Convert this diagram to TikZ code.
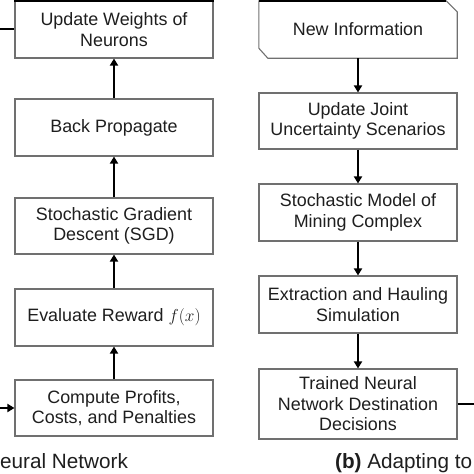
\documentclass[tikz,border=0pt]{standalone}
\usepackage{fontspec}
\setmainfont{Liberation Sans}
\usetikzlibrary{arrows.meta,calc}
\definecolor{boxline}{HTML}{707070}
\definecolor{txt}{HTML}{1E1E1E}
\begin{document}
\begin{tikzpicture}[x=1pt,y=-1pt,
  flowbox/.style={draw=boxline,line width=1.1pt,minimum width=198pt,inner sep=0pt,
    align=center,text=txt,font=\fontsize{17.9}{20.5}\selectfont},
  plainbox/.style={inner sep=0pt,minimum width=198pt,align=center,text=txt,
    font=\fontsize{17.9}{20.5}\selectfont},
  flowarrow/.style={line width=2pt,-{Triangle[length=7pt,width=8pt]}},
  flowline/.style={line width=2pt},
  topedge/.style={line width=2.5pt},
  caption/.style={inner sep=0pt,text=txt,font=\fontsize{20.7}{24}\selectfont}]
\useasboundingbox (0,0) rectangle (474,474);
% left column
\node[flowbox,minimum height=57pt] (l1) at (114,29.5) {Update Weights of\\Neurons};
\node[flowbox,minimum height=57pt] (l2) at (114,127.5) {Back Propagate};
\node[flowbox,minimum height=56pt] (l3) at (114,226) {Stochastic Gradient\\Descent (SGD)};
\node[flowbox,minimum height=57pt] (l4) at (114,317.5) {Evaluate Reward $f(x)$};
\node[flowbox,minimum height=56pt] (l5) at (114,408) {Compute Profits,\\Costs, and Penalties};
\draw[topedge] (l1.north west) -- (l1.north east);
\draw[flowarrow] (l5) -- (l4);
\draw[flowarrow] (l4) -- (l3);
\draw[flowarrow] (l3) -- (l2);
\draw[flowarrow] (l2) -- (l1);
\coordinate (lin) at (0,29);
\coordinate (lfeed) at (0,408);
\draw[flowline] (lin) -- (lin -| l1.west);
\draw[flowarrow] (lfeed) -- (lfeed -| l5.west);
% right column
\node[plainbox,minimum height=57pt] (r1) at (358,29.5) {New Information};
\draw[draw=boxline,line width=1.1pt]
  (r1.north west) -- ($(r1.north east)+(-11,0)$) -- ($(r1.north east)+(0,11)$)
  -- (r1.south east) -- ($(r1.south west)+(9,0)$) -- ($(r1.south west)+(0,-10)$) -- cycle;
\draw[topedge] (r1.north west) -- ($(r1.north east)+(-11,0)$);
\node[flowbox,minimum height=56pt] (r2) at (358,121) {Update Joint\\Uncertainty Scenarios};
\node[flowbox,minimum height=57pt] (r3) at (358,212.5) {Stochastic Model of\\Mining Complex};
\node[flowbox,minimum height=57pt] (r4) at (358,304.5) {Extraction and Hauling\\Simulation};
\node[flowbox,minimum height=70pt] (r5) at (358,404) {Trained Neural\\Network Destination\\Decisions};
\draw[flowarrow] (r1) -- (r2);
\draw[flowarrow] (r2) -- (r3);
\draw[flowarrow] (r3) -- (r4);
\draw[flowarrow] (r4) -- (r5);
\coordinate (rout) at (474,404);
\draw[flowline] (r5.east |- rout) -- (rout);
% captions
\node[caption,anchor=base west] (capa) at (0,468) {eural Network};
\node[caption,anchor=base west] (capb) at (335,468) {\textbf{(b)} Adapting to};
\end{tikzpicture}
\end{document}
